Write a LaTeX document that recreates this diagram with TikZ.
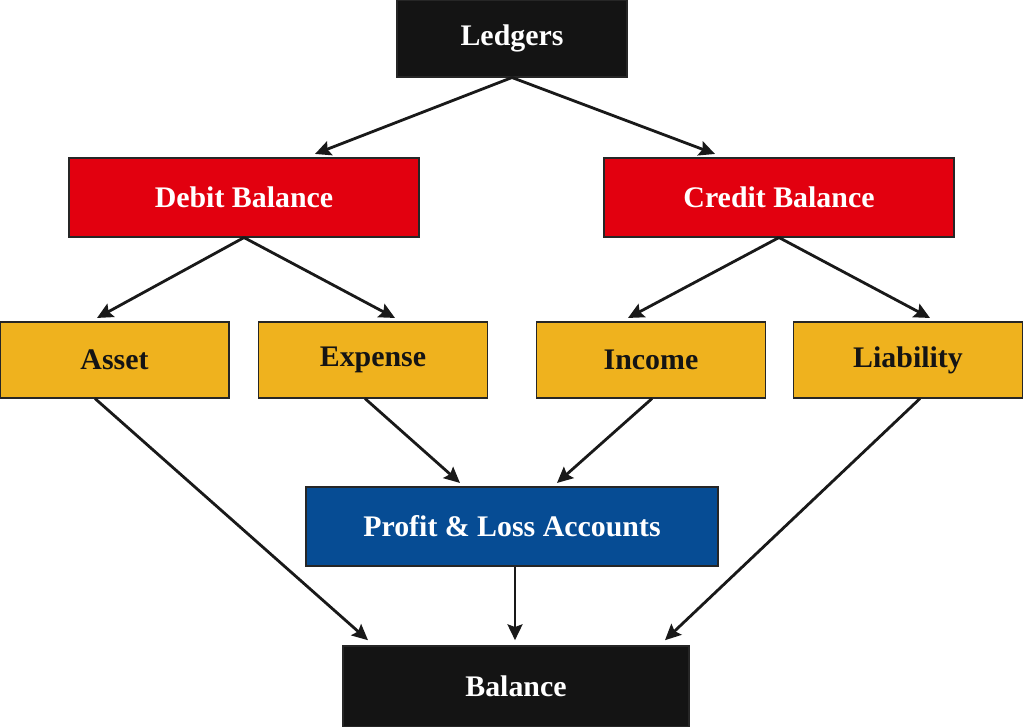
\documentclass[tikz,border=0pt]{standalone}
\usepackage{fontspec}
\setmainfont{Liberation Serif}
\usepackage{xcolor}
\usetikzlibrary{arrows.meta,positioning}

\definecolor{ledgerblack}{HTML}{141414}
\definecolor{debitred}{HTML}{E2000F}
\definecolor{accyellow}{HTML}{EFB21E}
\definecolor{plblue}{HTML}{064C94}

\begin{document}
\begin{tikzpicture}[
    darkbox/.style={rectangle, draw=black!85, line width=0.6pt, fill=ledgerblack, text=white, font=\fontsize{17}{20}\selectfont\bfseries, inner sep=0pt},
    redbox/.style={darkbox, fill=debitred, minimum width=7cm, minimum height=1.58cm},
    accbox/.style={darkbox, fill=accyellow, text=ledgerblack, minimum width=4.58cm, minimum height=1.52cm},
    bluebox/.style={darkbox, fill=plblue, minimum width=8.24cm, minimum height=1.58cm},
    arrow/.style={-{Stealth[length=9pt,width=8.5pt,inset=1.5pt]}, line width=1.6pt, black!90}
]
\useasboundingbox (0,0) rectangle (20.48,-14.54);

% Top
\node[darkbox, minimum width=4.6cm, minimum height=1.54cm] (ledgers) at (10.24,-0.77) {Ledgers};

% Balances
\node[redbox] (debit) at (4.88,-3.95) {Debit Balance};
\node[redbox] (credit) at (15.58,-3.95) {Credit Balance};

% Account types
\node[accbox] (asset) at (2.29,-7.2) {Asset};
\node[accbox] (expense) at (7.46,-7.2) {Expense};
\node[accbox] (income) at (13.02,-7.2) {Income};
\node[accbox] (liability) at (18.16,-7.2) {Liability};

% Results
\node[bluebox] (pl) at (10.24,-10.53) {Profit \& Loss Accounts};
\node[darkbox, minimum width=6.92cm, minimum height=1.62cm] (balance) at (10.32,-13.73) {Balance};

% Arrows
\draw[arrow] (ledgers.south) -- ([xshift=1.42cm,yshift=2pt]debit.north);
\draw[arrow] (ledgers.south) -- ([xshift=-1.28cm,yshift=2pt]credit.north);
\draw[arrow] (debit.south) -- ([xshift=-0.35cm,yshift=2pt]asset.north);
\draw[arrow] (debit.south) -- ([xshift=0.44cm,yshift=2pt]expense.north);
\draw[arrow] (credit.south) -- ([xshift=-0.46cm,yshift=2pt]income.north);
\draw[arrow] (credit.south) -- ([xshift=0.44cm,yshift=2pt]liability.north);
\draw[arrow] ([xshift=-0.39cm]asset.south) -- ([xshift=-2.96cm,yshift=3pt]balance.north);
\draw[arrow] ([xshift=-0.16cm]expense.south) -- ([xshift=-1.04cm,yshift=2pt]pl.north);
\draw[arrow] ([xshift=0.02cm]income.south) -- ([xshift=0.9cm,yshift=2pt]pl.north);
\draw[arrow] ([xshift=0.24cm]liability.south) -- ([xshift=2.98cm,yshift=3pt]balance.north);
\draw[arrow] ([xshift=0.06cm]pl.south) -- ([xshift=-0.02cm,yshift=3pt]balance.north);

\end{tikzpicture}
\end{document}
